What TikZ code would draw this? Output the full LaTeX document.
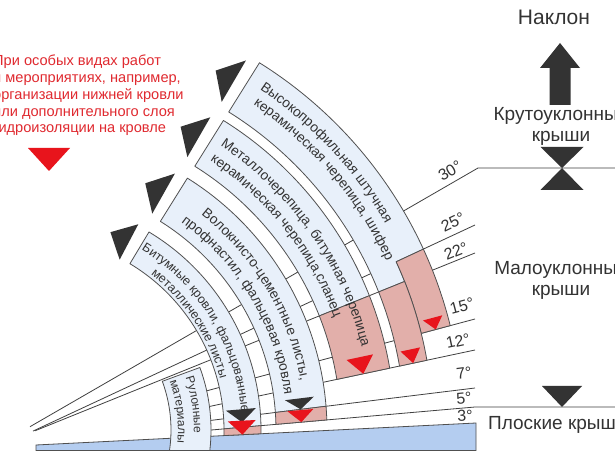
\documentclass[tikz,border=0pt]{standalone}
\usepackage{fontspec}
\setmainfont{Liberation Sans}
\usetikzlibrary{decorations.text}
\definecolor{bandblue}{HTML}{E8F0FA}
\definecolor{pinkbox}{HTML}{E2AFAA}
\definecolor{barblue}{HTML}{B4CDF0}
\definecolor{edgegray}{HTML}{505050}
\definecolor{linegray}{HTML}{404040}
\definecolor{darkmark}{HTML}{333333}
\definecolor{redmark}{HTML}{E8141C}
\definecolor{redtext}{HTML}{E02A30}
\definecolor{labelgray}{HTML}{333333}
\newcommand{\ang}[3]{(#1)+asin((#2)/(#3))}
\def\kA{2.9}\def\kB{-2.3}\def\kC{-2.6}\def\kD{-7.9}\def\kE{-14.3}\def\kF{-12.5}\def\kG{-15.8}\def\kH{-15.28}
\newcommand{\annsec}[6]{({#3}:#2) arc[start angle={#3}, end angle={#4}, radius=#2] -- ({#5}:#1) arc[start angle={#5}, end angle={#6}, radius=#1] -- cycle}
\newcommand{\downtri}[7]{\fill[#1, shift={({\ang{#2}{#3}{#4}}:#4)}, rotate=#2] (0,#7) -- (-#5/2,#6+#7) -- (#5/2,#6+#7) -- cycle;}
\newcommand{\bfnt}{\fontsize{13.8}{16}\selectfont}
\newcommand{\sfnt}{\fontsize{12.5}{15}\selectfont}
\newcommand{\rfnt}{\fontsize{12}{14}\selectfont}
\begin{document}
\begin{tikzpicture}[x=1pt,y=1pt,
  fanline/.style={draw=linegray, line width=0.8pt},
  bandfill/.style={fill=bandblue, draw=edgegray, line width=0.8pt, line join=round},
  pinkfill/.style={fill=pinkbox, draw=edgegray, line width=0.8pt, line join=round},
  barfill/.style={fill=barblue, draw=edgegray, line width=0.8pt},
  anglab/.style={text=labelgray, font=\fontsize{16}{18}\selectfont, inner sep=0pt},
  sidelab/.style={text=labelgray, font=\fontsize{19}{21}\selectfont, align=center, inner sep=0pt},
  bandtext/.style={decorate, decoration={text along path, text color=labelgray, text={#1}}}
]
\useasboundingbox (0,0) rectangle (615,460);
\fill[white] (0,0) rectangle (615,460);
\begin{scope}[shift={(30,30)}]
% fan lines
\draw[fanline] (0,3.3) -- (448,262) -- (585,262);
\draw[fanline] (3,-1.1) -- (445,205);
\draw[fanline] (5,-0.8) -- (445,177);
\draw[fanline] ({\ang{15}{\kD}{160}}:160) -- (445,111);
\draw[fanline] ({\ang{12}{\kE}{160}}:160) -- (445,80);
\draw[fanline] ({\ang{7}{\kF}{160}}:160) -- (445,42);
\draw[fanline] ({\ang{5}{\kG}{160}}:160) -- (445,23) -- (585,23);
% 3 degree bar
\filldraw[barfill] (6,-20.5) -- (6,-15) -- (446,7) -- (446,-20.5) -- cycle;
% band 5
\filldraw[bandfill] (58:433) arc[start angle=58, end angle={\ang{25}{\kB}{433}}, radius=433] -- ({\ang{25}{\kB}{403}}:403) arc[start angle={\ang{25}{\kB}{403}}, end angle={\ang{22}{\kC}{403}}, radius=403] -- ({\ang{22}{\kC}{375}}:375) arc[start angle={\ang{22}{\kC}{375}}, end angle=58, radius=375] -- cycle;
\filldraw[pinkfill] \annsec{403}{433}{\ang{25}{\kB}{433}}{\ang{15}{\kD}{433}}{\ang{15}{\kD}{403}}{\ang{25}{\kB}{403}};
\filldraw[pinkfill] \annsec{375}{403}{\ang{22}{\kC}{403}}{\ang{12}{\kE}{403}}{\ang{12}{\kE}{375}}{\ang{22}{\kC}{375}};
% band 4
\filldraw[bandfill] \annsec{311}{365}{58}{\ang{22}{\kC}{365}}{\ang{22}{\kC}{311}}{58};
\filldraw[pinkfill] \annsec{311}{365}{\ang{22}{\kC}{365}}{\ang{12}{\kE}{365}}{\ang{12}{\kE}{311}}{\ang{22}{\kC}{311}};
% band 3
\filldraw[bandfill] \annsec{246}{297}{58}{\ang{7}{\kF}{297}}{\ang{7}{\kF}{246}}{58};
\filldraw[pinkfill] \annsec{246}{297}{\ang{7}{\kF}{297}}{\ang{5}{\kG}{297}}{\ang{5}{\kG}{246}}{\ang{7}{\kF}{246}};
% band 2
\filldraw[bandfill] \annsec{194}{231}{59}{\ang{5}{\kG}{231}}{\ang{5}{\kG}{194}}{59};
\filldraw[pinkfill] \annsec{194}{231}{\ang{5}{\kG}{231}}{\ang{2.862}{\kH}{231}}{\ang{2.862}{\kH}{194}}{\ang{5}{\kG}{194}};
% band 1
\filldraw[bandfill] (20.2:181) arc[start angle=20.2, end angle={asin(-20.5/181)}, radius=181] -- ({asin(-20.5/141)}:141) arc[start angle={asin(-20.5/141)}, end angle=20.2, radius=141] -- cycle;
% top arrowheads
\fill[darkmark] (59.70:380) -- (59.70:428) -- (62.68:404.55) -- cycle;
\fill[darkmark] (60.03:315) -- (60.03:361) -- (63.59:338.65) -- cycle;
\fill[darkmark] (60.53:248.5) -- (60.53:294.5) -- (64.96:272.31) -- cycle;
\fill[darkmark] (62.24:192.5) -- (62.24:232.5) -- (67.88:213.54) -- cycle;
% bottom markers
\downtri{darkmark}{5}{\kG}{212.5}{30}{13}{5}
\downtri{redmark}{2.862}{\kH}{212.5}{28}{14}{0}
\downtri{darkmark}{7}{\kF}{271.5}{29}{11}{0}
\downtri{redmark}{5}{\kG}{271.5}{26}{12}{0}
\downtri{redmark}{12}{\kE}{338}{27}{17}{0}
\downtri{redmark}{12}{\kE}{389}{20}{14}{0}
\downtri{redmark}{15}{\kD}{418}{20}{12}{0}
% band texts
\path[bandtext={|\bfnt|Высокопрофильная штучная}] (56:411) arc[start angle=56, end angle=-10, radius=411];
\path[bandtext={|\bfnt|керамическая черепица, шифер}] (55.5:394.5) arc[start angle=55.5, end angle=-10, radius=394.5];
\path[bandtext={|\bfnt|Металлочерепица, битумная черепица}] (56.2:342) arc[start angle=56.2, end angle=-10, radius=342];
\path[bandtext={|\bfnt|керамическая черепица,сланец}] (56.2:324) arc[start angle=56.2, end angle=-10, radius=324];
\path[bandtext={|\bfnt|Волокнисто-цементные листы,}] (51.5:275) arc[start angle=51.5, end angle=-10, radius=275];
\path[bandtext={|\bfnt|профнастил, фальцевая кровля}] (54:257) arc[start angle=54, end angle=-10, radius=257];
\path[bandtext={|\sfnt|Битумные кровли, фальцованные}] (58.3:212) arc[start angle=58.3, end angle=-15, radius=212];
\path[bandtext={|\sfnt|металлические листы}] (52.2:197) arc[start angle=52.2, end angle=-15, radius=197];
\path[bandtext={|\rfnt|Рулонные}] (18.5:164) arc[start angle=18.5, end angle=-25, radius=164];
\path[bandtext={|\rfnt|материалы}] (19.3:148) arc[start angle=19.3, end angle=-25, radius=148];
\end{scope}
% angle labels
\node[anglab, rotate=30] (d30) at (450,289) {30°};
\node[anglab, rotate=25] (d25) at (453,238) {25°};
\node[anglab, rotate=22] (d22) at (456,209) {22°};
\node[anglab, rotate=15] (d15) at (462,154) {15°};
\node[anglab, rotate=12] (d12) at (458,119) {12°};
\node[anglab, rotate=7] (d7) at (464,87) {7°};
\node[anglab, rotate=5] (d5) at (464,62) {5°};
\node[anglab, rotate=3] (d3) at (465,44) {3°};
% right side
\node[text=labelgray, font=\fontsize{21}{24}\selectfont, inner sep=0pt] (nak) at (554,442.5) {Наклон};
\fill[darkmark] (540,392) -- (560,417) -- (580,392) -- (570.5,392) -- (570.5,355) -- (549.5,355) -- (549.5,392) -- cycle;
\node[sidelab] (steep) at (561,333.5) {Крутоуклонные\\крыши};
\fill[darkmark] (540.5,313) -- (583.5,313) -- (562,292) -- cycle;
\fill[darkmark] (540.5,270) -- (583.5,270) -- (562,292) -- cycle;
\node[sidelab] (low) at (561,179.5) {Малоуклонные\\крыши};
\fill[darkmark] (542,74) -- (582,74) -- (562,53) -- cycle;
\node[sidelab, anchor=west] (flat) at (488,35) {Плоские крыши};
% left note
\node[text=redtext, anchor=north west, inner sep=0pt, align=left, font=\fontsize{14.6}{16.75}\selectfont] (note) at (-7,405) {При особых видах работ\\и мероприятиях, например,\\организации нижней кровли\\или дополнительного слоя\\гидроизоляции на кровле};
\fill[redmark] (28,312) -- (70,312) -- (49,289) -- cycle;
\end{tikzpicture}
\end{document}
